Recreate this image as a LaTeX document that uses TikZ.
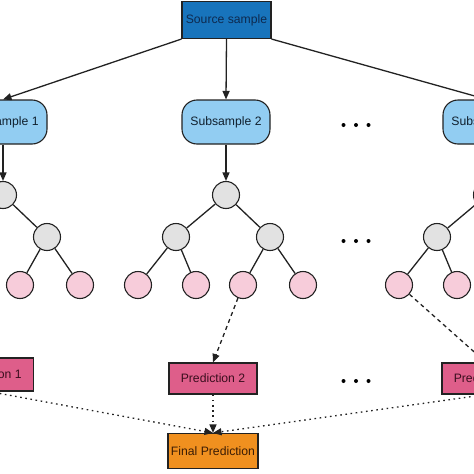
\documentclass[tikz,border=0pt]{standalone}
\usepackage{fontspec}
\setmainfont{Liberation Sans}
\usetikzlibrary{arrows.meta}
\definecolor{srcblue}{HTML}{1874BC}
\definecolor{srctext}{HTML}{0E2A4F}
\definecolor{subblue}{HTML}{92CDF2}
\definecolor{subtext}{HTML}{10202E}
\definecolor{nodegray}{HTML}{E2E2E2}
\definecolor{leafpink}{HTML}{F7CCDA}
\definecolor{predpink}{HTML}{DE5E8A}
\definecolor{predtext}{HTML}{3A0E1E}
\definecolor{finalorange}{HTML}{F0901F}
\definecolor{finaltext}{HTML}{3A1C05}
\definecolor{edgecol}{HTML}{222222}
\begin{document}
\begin{tikzpicture}[x=1pt,y=-1pt,
  box/.style={draw=edgecol, line width=1.1pt, inner sep=0pt, font=\fontsize{12.2}{14}\selectfont},
  srcbox/.style={box, fill=srcblue, text=srctext, minimum width=89pt, minimum height=37pt},
  subbox/.style={box, fill=subblue, text=subtext, rounded corners=15pt, minimum width=88pt, minimum height=44pt},
  predbox/.style={box, fill=predpink, text=predtext, minimum width=88pt, minimum height=31pt},
  finalbox/.style={box, fill=finalorange, text=finaltext, minimum width=90pt, minimum height=35pt},
  inode/.style={circle, draw=edgecol, line width=1.1pt, fill=nodegray, minimum size=27pt, inner sep=0pt},
  lnode/.style={circle, draw=edgecol, line width=1.1pt, fill=leafpink, minimum size=27pt, inner sep=0pt},
  dotnode/.style={circle, fill=black, minimum size=4pt, inner sep=0pt},
  link/.style={draw=edgecol, line width=1.3pt},
  arr/.style={link, -{Stealth[length=8.5pt,width=7pt,inset=0pt]}},
  dasharr/.style={arr, dash pattern=on 4pt off 3.5pt},
  dotarr/.style={arr, dash pattern=on 1.6pt off 3.6pt}
]
\useasboundingbox (0,0) rectangle (474,474);

% source and subsamples
\node[srcbox] (src) at (226.5,20) {Source sample};
\node[subbox] (sub1) at (3,122) {Subsample 1};
\node[subbox] (sub2) at (226,122) {Subsample 2};
\node[subbox] (sub3) at (487,122) {Subsample 3};

% tree roots
\node[inode] (r1) at (3,195) {};
\node[inode] (r2) at (226,195) {};
\node[inode] (r3) at (487,195) {};

% tree 1 (visible part)
\node[inode] (c1b) at (47,237) {};
\node[lnode] (l1c) at (20,285) {};
\node[lnode] (l1d) at (80,285) {};

% tree 2
\node[inode] (c2a) at (176,237) {};
\node[inode] (c2b) at (270,237) {};
\node[lnode] (l2a) at (138,285) {};
\node[lnode] (l2b) at (196,285) {};
\node[lnode] (l2c) at (243,285) {};
\node[lnode] (l2d) at (303,285) {};

% tree 3 (visible part)
\node[inode] (c3a) at (437,237) {};
\node[lnode] (l3a) at (399,285) {};
\node[lnode] (l3b) at (457,285) {};

% predictions
\node[predbox, minimum height=33pt] (p1) at (-10.5,374.5) {Prediction 1};
\node[predbox] (p2) at (213,378.5) {Prediction 2};
\node[predbox] (p3) at (486,378.5) {Prediction 3};
\node[finalbox] (fin) at (213,451) {Final Prediction};

% ellipsis dots
\foreach \y/\n in {125/a,241/b,381/c}{
  \node[dotnode] (d\n1) at (343.5,\y) {};
  \node[dotnode] (d\n2) at (356,\y) {};
  \node[dotnode] (d\n3) at (368.5,\y) {};
}

% connectors
\draw[arr] (src.south west) -- (sub1.north);
\draw[arr] (src.south) -- (sub2.north);
\draw[arr] (src.south east) -- (sub3.north);
\draw[arr] (sub1.south) -- (r1);
\draw[arr] (sub2.south) -- (r2);
\draw[arr] (sub3.south) -- (r3);

\draw[link] (r1) -- (c1b);
\draw[link] (c1b) -- (l1c);
\draw[link] (c1b) -- (l1d);

\draw[link] (r2) -- (c2a);
\draw[link] (r2) -- (c2b);
\draw[link] (c2a) -- (l2a);
\draw[link] (c2a) -- (l2b);
\draw[link] (c2b) -- (l2c);
\draw[link] (c2b) -- (l2d);

\draw[link] (r3) -- (c3a);
\draw[link] (c3a) -- (l3a);
\draw[link] (c3a) -- (l3b);

\draw[dasharr] (l2c) -- (p2.north);
\draw[dasharr] (l3a) -- (p3.north);

\draw[dotarr] (p1.south) -- (fin.north);
\draw[dotarr] (p2.south) -- (fin.north);
\draw[dotarr] (p3.south) -- (fin.north);
\end{tikzpicture}
\end{document}
